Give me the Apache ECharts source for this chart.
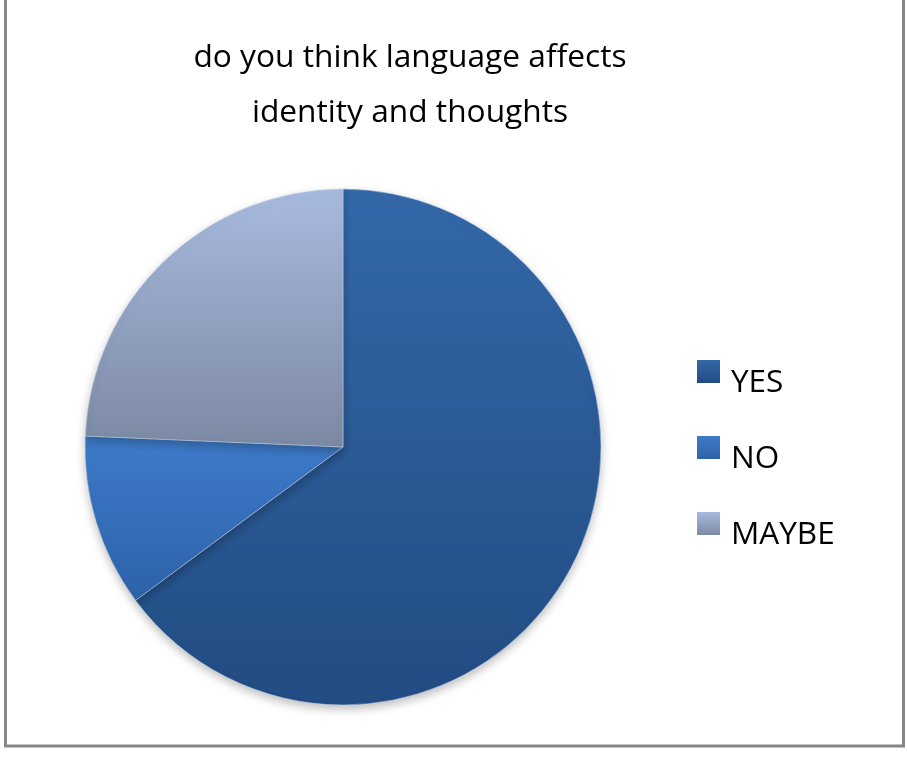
<!DOCTYPE html>
<html><head><meta charset="utf-8">
<script src="https://cdn.jsdelivr.net/npm/echarts@6/dist/echarts.min.js"></script>
<style>html,body{margin:0;padding:0;background:#fff;}#c{width:907px;height:769px;}</style>
</head><body><div id="c"></div>
<script>
var titleText = 'do you think language affects\nidentity and thoughts';
var categories = ['YES', 'NO', 'MAYBE'];
var values = [24, 4, 9];
var gradTops = ['#3468AA', '#3E7BCA', '#A8BADF'];
var gradBottoms = ['#224C82', '#2E62A8', '#7C89A3'];

function grad(i) {
  return new echarts.graphic.LinearGradient(0, 0, 0, 1, [
    {offset: 0, color: gradTops[i]},
    {offset: 1, color: gradBottoms[i]}
  ]);
}
function gradIcon(i) {
  return new echarts.graphic.LinearGradient(0, 0, 0, 0.5, [
    {offset: 0, color: gradTops[i]},
    {offset: 1, color: gradBottoms[i]}
  ]);
}

var chart = echarts.init(document.getElementById('c'), null, {renderer: 'canvas'});
chart.setOption({
  animation: false,
  backgroundColor: '#fff',
  title: {
    text: titleText,
    left: 405, top: 25, textAlign: 'center',
    textStyle: {fontFamily: 'Open Sans', fontSize: 31.7, fontWeight: 'normal', color: '#000', lineHeight: 55}
  },
  legend: {
    orient: 'vertical',
    left: 697, top: 360, padding: 0,
    itemWidth: 23, itemHeight: 46, itemGap: 30,
    icon: 'path://M0,0L23,0L23,23L0,23Z M0,46L23,46',
    formatter: '{t|{name}}',
    itemStyle: {borderWidth: 0, shadowBlur: 0},
    data: categories.map(function (c, i) { return {name: c, itemStyle: {color: gradIcon(i), borderWidth: 0}}; }),
    textStyle: {
      fontFamily: 'Open Sans', fontSize: 31.5, color: '#000',
      rich: {t: {fontFamily: 'Open Sans', fontSize: 31.5, color: '#000', padding: [0, 0, 0, 6], lineHeight: 38}}
    }
  },
  graphic: [{
    type: 'rect', shape: {x: 5.5, y: -5, width: 898, height: 751},
    style: {fill: 'none', stroke: '#868686', lineWidth: 3}, silent: true, z: 100
  }],
  series: [{
    type: 'pie',
    center: [343, 447],
    radius: 258,
    startAngle: 90,
    clockwise: true,
    label: {show: false},
    labelLine: {show: false},
    emphasis: {disabled: true},
    itemStyle: {borderColor: 'rgba(200,215,235,0.5)', borderWidth: 1, shadowBlur: 10, shadowOffsetY: 4, shadowColor: 'rgba(0,0,0,0.25)'},
    data: categories.map(function (c, i) { return {name: c, value: values[i], itemStyle: {color: grad(i)}}; })
  }]
});
</script></body></html>
